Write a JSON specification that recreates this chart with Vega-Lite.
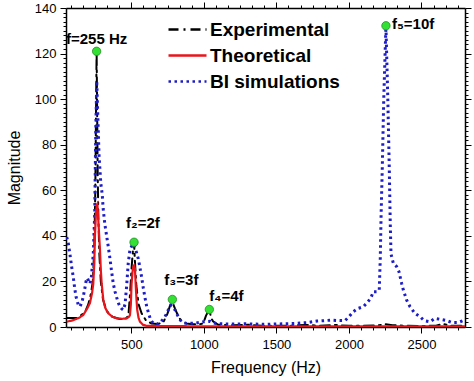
{
  "$schema": "https://vega.github.io/schema/vega-lite/v6.json",
  "width": 399,
  "height": 319,
  "autosize": {"type": "none"},
  "padding": {"left": 66, "top": 8, "right": 9, "bottom": 54},
  "background": "white",
  "config": {
    "view": {"stroke": null},
    "axis": {
      "domainColor": "black", "domainWidth": 1.5, "tickColor": "black", "tickWidth": 1,
      "labelFont": "Liberation Sans", "labelFontSize": 13, "labelColor": "black",
      "titleFont": "Liberation Sans", "titleFontSize": 16, "titleFontWeight": "normal", "titleColor": "black",
      "grid": false
    }
  },
  "datasets": {
    "curves": [
      {"s":"Experimental","f":55,"m":4},{"s":"Experimental","f":90,"m":4},{"s":"Experimental","f":124,"m":4},{"s":"Experimental","f":150,"m":5},{"s":"Experimental","f":181,"m":6.5},{"s":"Experimental","f":204,"m":10},{"s":"Experimental","f":220,"m":14},{"s":"Experimental","f":235,"m":20},{"s":"Experimental","f":245,"m":35},{"s":"Experimental","f":252,"m":60},{"s":"Experimental","f":257,"m":95},{"s":"Experimental","f":261,"m":121},{"s":"Experimental","f":264,"m":100},{"s":"Experimental","f":268,"m":70},{"s":"Experimental","f":273,"m":48},{"s":"Experimental","f":280,"m":32},{"s":"Experimental","f":290,"m":20},{"s":"Experimental","f":305,"m":12},{"s":"Experimental","f":330,"m":7},{"s":"Experimental","f":370,"m":4.5},{"s":"Experimental","f":420,"m":3.5},{"s":"Experimental","f":460,"m":3.5},{"s":"Experimental","f":480,"m":5},{"s":"Experimental","f":492,"m":15},{"s":"Experimental","f":502,"m":26},{"s":"Experimental","f":512,"m":34},{"s":"Experimental","f":519,"m":37},{"s":"Experimental","f":524,"m":30},{"s":"Experimental","f":535,"m":18},{"s":"Experimental","f":550,"m":10},{"s":"Experimental","f":571,"m":6},{"s":"Experimental","f":600,"m":3},{"s":"Experimental","f":640,"m":1.5},{"s":"Experimental","f":680,"m":1.3},{"s":"Experimental","f":720,"m":2},{"s":"Experimental","f":750,"m":6},{"s":"Experimental","f":770,"m":10},{"s":"Experimental","f":783,"m":12},{"s":"Experimental","f":795,"m":9},{"s":"Experimental","f":815,"m":6},{"s":"Experimental","f":840,"m":3},{"s":"Experimental","f":880,"m":1.5},{"s":"Experimental","f":925,"m":1.2},{"s":"Experimental","f":970,"m":1.2},{"s":"Experimental","f":996,"m":1.6},{"s":"Experimental","f":1015,"m":5},{"s":"Experimental","f":1038,"m":7.7},{"s":"Experimental","f":1050,"m":4},{"s":"Experimental","f":1063,"m":2.5},{"s":"Experimental","f":1100,"m":1},{"s":"Experimental","f":1200,"m":0.8},{"s":"Experimental","f":1300,"m":1},{"s":"Experimental","f":1400,"m":0.6},{"s":"Experimental","f":1500,"m":0.5},{"s":"Experimental","f":1600,"m":0.6},{"s":"Experimental","f":1700,"m":0.9},{"s":"Experimental","f":1800,"m":0.6},{"s":"Experimental","f":1900,"m":0.9},{"s":"Experimental","f":2000,"m":0.5},{"s":"Experimental","f":2100,"m":0.5},{"s":"Experimental","f":2200,"m":0.7},{"s":"Experimental","f":2255,"m":1.2},{"s":"Experimental","f":2300,"m":0.8},{"s":"Experimental","f":2400,"m":0.5},{"s":"Experimental","f":2500,"m":0.4},{"s":"Experimental","f":2600,"m":0.6},{"s":"Experimental","f":2650,"m":1.3},{"s":"Experimental","f":2700,"m":0.6},{"s":"Experimental","f":2800,"m":0.5},
      {"s":"Theoretical","f":55,"m":2.3},{"s":"Theoretical","f":100,"m":3},{"s":"Theoretical","f":140,"m":4},{"s":"Theoretical","f":169,"m":5.3},{"s":"Theoretical","f":195,"m":8},{"s":"Theoretical","f":215,"m":10.5},{"s":"Theoretical","f":230,"m":15},{"s":"Theoretical","f":238,"m":19},{"s":"Theoretical","f":245,"m":28},{"s":"Theoretical","f":250,"m":41},{"s":"Theoretical","f":256,"m":49},{"s":"Theoretical","f":262,"m":53.5},{"s":"Theoretical","f":266,"m":54},{"s":"Theoretical","f":270,"m":50},{"s":"Theoretical","f":277,"m":42},{"s":"Theoretical","f":284,"m":34},{"s":"Theoretical","f":290,"m":25},{"s":"Theoretical","f":296,"m":19},{"s":"Theoretical","f":307,"m":12},{"s":"Theoretical","f":320,"m":8.5},{"s":"Theoretical","f":341,"m":6},{"s":"Theoretical","f":370,"m":4.5},{"s":"Theoretical","f":399,"m":3.8},{"s":"Theoretical","f":440,"m":3.6},{"s":"Theoretical","f":468,"m":3.8},{"s":"Theoretical","f":485,"m":4.5},{"s":"Theoretical","f":491,"m":5.3},{"s":"Theoretical","f":497,"m":10},{"s":"Theoretical","f":502,"m":19},{"s":"Theoretical","f":508,"m":24},{"s":"Theoretical","f":514,"m":26.5},{"s":"Theoretical","f":519,"m":27},{"s":"Theoretical","f":525,"m":25.7},{"s":"Theoretical","f":531,"m":17.7},{"s":"Theoretical","f":536,"m":12},{"s":"Theoretical","f":541,"m":7.5},{"s":"Theoretical","f":550,"m":4},{"s":"Theoretical","f":560,"m":2.3},{"s":"Theoretical","f":580,"m":1},{"s":"Theoretical","f":606,"m":0.5},{"s":"Theoretical","f":700,"m":0.4},{"s":"Theoretical","f":1000,"m":0.3},{"s":"Theoretical","f":1500,"m":0.3},{"s":"Theoretical","f":2000,"m":0.3},{"s":"Theoretical","f":2500,"m":0.3},{"s":"Theoretical","f":2800,"m":0.3},
      {"s":"BI simulations","f":55,"m":39.5},{"s":"BI simulations","f":65,"m":37},{"s":"BI simulations","f":77,"m":32},{"s":"BI simulations","f":90,"m":26},{"s":"BI simulations","f":100,"m":22},{"s":"BI simulations","f":110,"m":17},{"s":"BI simulations","f":119,"m":13.3},{"s":"BI simulations","f":135,"m":9.6},{"s":"BI simulations","f":146,"m":8.9},{"s":"BI simulations","f":158,"m":10.5},{"s":"BI simulations","f":169,"m":13.3},{"s":"BI simulations","f":180,"m":17},{"s":"BI simulations","f":188,"m":20},{"s":"BI simulations","f":197,"m":21.5},{"s":"BI simulations","f":207,"m":20},{"s":"BI simulations","f":215,"m":19},{"s":"BI simulations","f":225,"m":22},{"s":"BI simulations","f":238,"m":32},{"s":"BI simulations","f":248,"m":50},{"s":"BI simulations","f":255,"m":85},{"s":"BI simulations","f":262,"m":108},{"s":"BI simulations","f":268,"m":95},{"s":"BI simulations","f":278,"m":75},{"s":"BI simulations","f":290,"m":63},{"s":"BI simulations","f":300,"m":58},{"s":"BI simulations","f":306,"m":52},{"s":"BI simulations","f":318,"m":45},{"s":"BI simulations","f":330,"m":40},{"s":"BI simulations","f":342,"m":35},{"s":"BI simulations","f":353,"m":30},{"s":"BI simulations","f":365,"m":24},{"s":"BI simulations","f":376,"m":19},{"s":"BI simulations","f":388,"m":15.5},{"s":"BI simulations","f":399,"m":13},{"s":"BI simulations","f":411,"m":10.5},{"s":"BI simulations","f":422,"m":9},{"s":"BI simulations","f":434,"m":8},{"s":"BI simulations","f":445,"m":7.5},{"s":"BI simulations","f":457,"m":10},{"s":"BI simulations","f":468,"m":18},{"s":"BI simulations","f":479,"m":28},{"s":"BI simulations","f":491,"m":34},{"s":"BI simulations","f":503,"m":35.5},{"s":"BI simulations","f":515,"m":36.5},{"s":"BI simulations","f":530,"m":34},{"s":"BI simulations","f":548,"m":30},{"s":"BI simulations","f":560,"m":26},{"s":"BI simulations","f":571,"m":22},{"s":"BI simulations","f":583,"m":17},{"s":"BI simulations","f":594,"m":13},{"s":"BI simulations","f":606,"m":9},{"s":"BI simulations","f":617,"m":6.5},{"s":"BI simulations","f":629,"m":4},{"s":"BI simulations","f":641,"m":2.5},{"s":"BI simulations","f":652,"m":1.6},{"s":"BI simulations","f":675,"m":1.2},{"s":"BI simulations","f":700,"m":2},{"s":"BI simulations","f":720,"m":3.5},{"s":"BI simulations","f":732,"m":4.5},{"s":"BI simulations","f":744,"m":6},{"s":"BI simulations","f":755,"m":7.5},{"s":"BI simulations","f":771,"m":9.6},{"s":"BI simulations","f":785,"m":9},{"s":"BI simulations","f":801,"m":7.5},{"s":"BI simulations","f":812,"m":6},{"s":"BI simulations","f":824,"m":4.5},{"s":"BI simulations","f":835,"m":3.3},{"s":"BI simulations","f":847,"m":2.3},{"s":"BI simulations","f":865,"m":1.8},{"s":"BI simulations","f":882,"m":1.6},{"s":"BI simulations","f":928,"m":1.6},{"s":"BI simulations","f":973,"m":2},{"s":"BI simulations","f":1000,"m":2.3},{"s":"BI simulations","f":1042,"m":2.5},{"s":"BI simulations","f":1063,"m":1.8},{"s":"BI simulations","f":1100,"m":1.4},{"s":"BI simulations","f":1200,"m":1.3},{"s":"BI simulations","f":1300,"m":1.4},{"s":"BI simulations","f":1400,"m":1.2},{"s":"BI simulations","f":1500,"m":1.3},{"s":"BI simulations","f":1600,"m":1.5},{"s":"BI simulations","f":1711,"m":1.9},{"s":"BI simulations","f":1780,"m":2.6},{"s":"BI simulations","f":1830,"m":2.8},{"s":"BI simulations","f":1872,"m":3},{"s":"BI simulations","f":1938,"m":2.8},{"s":"BI simulations","f":1973,"m":2.8},{"s":"BI simulations","f":2000,"m":4.5},{"s":"BI simulations","f":2030,"m":6.7},{"s":"BI simulations","f":2064,"m":8.2},{"s":"BI simulations","f":2099,"m":8.9},{"s":"BI simulations","f":2122,"m":10.4},{"s":"BI simulations","f":2150,"m":12.6},{"s":"BI simulations","f":2168,"m":15.5},{"s":"BI simulations","f":2191,"m":15.5},{"s":"BI simulations","f":2209,"m":16.2},{"s":"BI simulations","f":2216,"m":30},{"s":"BI simulations","f":2222,"m":50},{"s":"BI simulations","f":2230,"m":70},{"s":"BI simulations","f":2240,"m":100},{"s":"BI simulations","f":2255,"m":132},{"s":"BI simulations","f":2268,"m":100},{"s":"BI simulations","f":2278,"m":70},{"s":"BI simulations","f":2285,"m":45},{"s":"BI simulations","f":2290,"m":32},{"s":"BI simulations","f":2306,"m":28},{"s":"BI simulations","f":2329,"m":26.5},{"s":"BI simulations","f":2345,"m":24.3},{"s":"BI simulations","f":2363,"m":19.2},{"s":"BI simulations","f":2375,"m":16.2},{"s":"BI simulations","f":2398,"m":11.8},{"s":"BI simulations","f":2421,"m":8.9},{"s":"BI simulations","f":2455,"m":6},{"s":"BI simulations","f":2490,"m":4.5},{"s":"BI simulations","f":2519,"m":2.8},{"s":"BI simulations","f":2559,"m":2.3},{"s":"BI simulations","f":2593,"m":3.8},{"s":"BI simulations","f":2628,"m":3.4},{"s":"BI simulations","f":2674,"m":2.8},{"s":"BI simulations","f":2708,"m":2},{"s":"BI simulations","f":2754,"m":2},{"s":"BI simulations","f":2788,"m":2.8}
    ],
    "peaks": [
      {"k":"p1","f":261,"m":121,"lab":"f=255 Hz"},
      {"k":"p2","f":519,"m":37.2,"lab":"f₂=2f"},
      {"k":"p3","f":783,"m":12.1,"lab":"f₃=3f"},
      {"k":"p4","f":1038,"m":7.7,"lab":"f₄=4f"},
      {"k":"p5","f":2255,"m":132.2,"lab":"f₅=10f"}
    ]
  },
  "resolve": {"axis": {"x": "independent", "y": "independent"}},
  "layer": [
    {
      "data": {"name": "curves"},
      "transform": [{"filter": "datum.s === 'Experimental'"}],
      "mark": {"type": "line", "strokeWidth": 2, "strokeCap": "round", "clip": true},
      "encoding": {
        "x": {"field": "f", "type": "quantitative", "scale": {"domain": [50, 2800], "nice": false, "zero": false},
          "axis": {"orient": "bottom", "title": "Frequency (Hz)", "values": [83.333,166.667,250,333.333,416.667,500,583.333,666.667,750,833.333,916.667,1000,1083.333,1166.667,1250,1333.333,1416.667,1500,1583.333,1666.667,1750,1833.333,1916.667,2000,2083.333,2166.667,2250,2333.333,2416.667,2500,2583.333,2666.667,2750],
            "format": "d", "labelExpr": "abs(datum.value/500 - round(datum.value/500)) < 0.001 ? datum.label : ''",
            "tickSize": {"condition": {"test": "abs(datum.value/500 - round(datum.value/500)) < 0.001", "value": 6}, "value": 3},
            "labelPadding": 5, "titlePadding": 8, "labelFlush": false}},
        "y": {"field": "m", "type": "quantitative", "scale": {"domain": [0, 140], "nice": false},
          "axis": {"orient": "left", "title": "Magnitude", "values": [0,2,4,6,8,10,12,14,16,18,20,22,24,26,28,30,32,34,36,38,40,42,44,46,48,50,52,54,56,58,60,62,64,66,68,70,72,74,76,78,80,82,84,86,88,90,92,94,96,98,100,102,104,106,108,110,112,114,116,118,120,122,124,126,128,130,132,134,136,138,140],
            "labelExpr": "datum.value % 20 === 0 ? datum.label : ''",
            "tickSize": {"condition": {"test": "datum.value % 20 === 0", "value": 6}, "value": 3},
            "labelPadding": 4, "titlePadding": 12}},
        "color": {"field": "s", "type": "nominal", "scale": {"domain": ["Experimental", "Theoretical", "BI simulations"], "range": ["#000000", "#e8151b", "#1c1cc8"]},
          "legend": {"orient": "none", "legendX": 98, "legendY": 12, "title": null, "padding": 0,
            "symbolType": "M-3.8,0H3.8", "symbolSize": 100, "symbolStrokeWidth": 2.5, "symbolOffset": 14,
            "labelOffset": 13, "labelFont": "Liberation Sans", "labelFontSize": 19, "labelFontWeight": "bold", "labelColor": "black",
            "rowPadding": 6,
            "encode": {"symbols": {"update": {"strokeCap": {"value": "butt"}}}}}},
        "strokeDash": {"field": "s", "type": "nominal", "scale": {"domain": ["Experimental", "Theoretical", "BI simulations"], "range": [[10, 5, 2, 5], [1, 0], [2.5, 3.5]]}, "legend": null}
      }
    },
    {
      "data": {"name": "curves"},
      "transform": [{"filter": "datum.s === 'BI simulations'"}],
      "mark": {"type": "line", "strokeWidth": 3, "clip": true},
      "encoding": {
        "x": {"field": "f", "type": "quantitative", "axis": null},
        "y": {"field": "m", "type": "quantitative", "axis": null},
        "color": {"field": "s", "type": "nominal"},
        "strokeDash": {"field": "s", "type": "nominal"}
      }
    },
    {
      "data": {"name": "curves"},
      "transform": [{"filter": "datum.s === 'Theoretical'"}],
      "mark": {"type": "line", "strokeWidth": 2.2, "clip": true},
      "encoding": {
        "x": {"field": "f", "type": "quantitative", "axis": null},
        "y": {"field": "m", "type": "quantitative", "axis": null},
        "color": {"field": "s", "type": "nominal"},
        "strokeDash": {"field": "s", "type": "nominal"}
      }
    },
    {
      "data": {"name": "peaks"},
      "mark": {"type": "point", "shape": "circle", "filled": true, "size": 70, "fill": "#33e033", "stroke": "#1f8f1f", "strokeWidth": 0.8, "opacity": 1},
      "encoding": {
        "x": {"field": "f", "type": "quantitative",
          "axis": {"orient": "top", "title": null, "labels": false, "values": [83.333,166.667,250,333.333,416.667,500,583.333,666.667,750,833.333,916.667,1000,1083.333,1166.667,1250,1333.333,1416.667,1500,1583.333,1666.667,1750,1833.333,1916.667,2000,2083.333,2166.667,2250,2333.333,2416.667,2500,2583.333,2666.667,2750],
            "tickSize": {"condition": {"test": "abs(datum.value/500 - round(datum.value/500)) < 0.001", "value": 6}, "value": 3}}},
        "y": {"field": "m", "type": "quantitative",
          "axis": {"orient": "right", "title": null, "labels": false, "values": [0,2,4,6,8,10,12,14,16,18,20,22,24,26,28,30,32,34,36,38,40,42,44,46,48,50,52,54,56,58,60,62,64,66,68,70,72,74,76,78,80,82,84,86,88,90,92,94,96,98,100,102,104,106,108,110,112,114,116,118,120,122,124,126,128,130,132,134,136,138,140],
            "tickSize": {"condition": {"test": "datum.value % 20 === 0", "value": 6}, "value": 3}}}
      }
    },
    {
      "data": {"name": "peaks"},
      "transform": [{"filter": "datum.k === 'p1'"}],
      "mark": {"type": "text", "font": "Liberation Sans", "fontSize": 15, "fontWeight": "bold", "align": "center", "baseline": "alphabetic", "dy": -7, "color": "black"},
      "encoding": {"x": {"field": "f", "type": "quantitative", "axis": null}, "y": {"field": "m", "type": "quantitative", "axis": null}, "text": {"field": "lab"}}
    },
    {
      "data": {"name": "peaks"},
      "transform": [{"filter": "datum.k === 'p2' || datum.k === 'p3'"}],
      "mark": {"type": "text", "font": "Liberation Sans", "fontSize": 15, "fontWeight": "bold", "align": "left", "baseline": "alphabetic", "dx": -8, "dy": -14, "color": "black"},
      "encoding": {"x": {"field": "f", "type": "quantitative", "axis": null}, "y": {"field": "m", "type": "quantitative", "axis": null}, "text": {"field": "lab"}}
    },
    {
      "data": {"name": "peaks"},
      "transform": [{"filter": "datum.k === 'p4'"}],
      "mark": {"type": "text", "font": "Liberation Sans", "fontSize": 15, "fontWeight": "bold", "align": "left", "baseline": "alphabetic", "dx": 0, "dy": -8, "color": "black"},
      "encoding": {"x": {"field": "f", "type": "quantitative", "axis": null}, "y": {"field": "m", "type": "quantitative", "axis": null}, "text": {"field": "lab"}}
    },
    {
      "data": {"name": "peaks"},
      "transform": [{"filter": "datum.k === 'p5'"}],
      "mark": {"type": "text", "font": "Liberation Sans", "fontSize": 15, "fontWeight": "bold", "align": "left", "baseline": "alphabetic", "dx": 6, "dy": 3, "color": "black"},
      "encoding": {"x": {"field": "f", "type": "quantitative", "axis": null}, "y": {"field": "m", "type": "quantitative", "axis": null}, "text": {"field": "lab"}}
    }
  ]
}
